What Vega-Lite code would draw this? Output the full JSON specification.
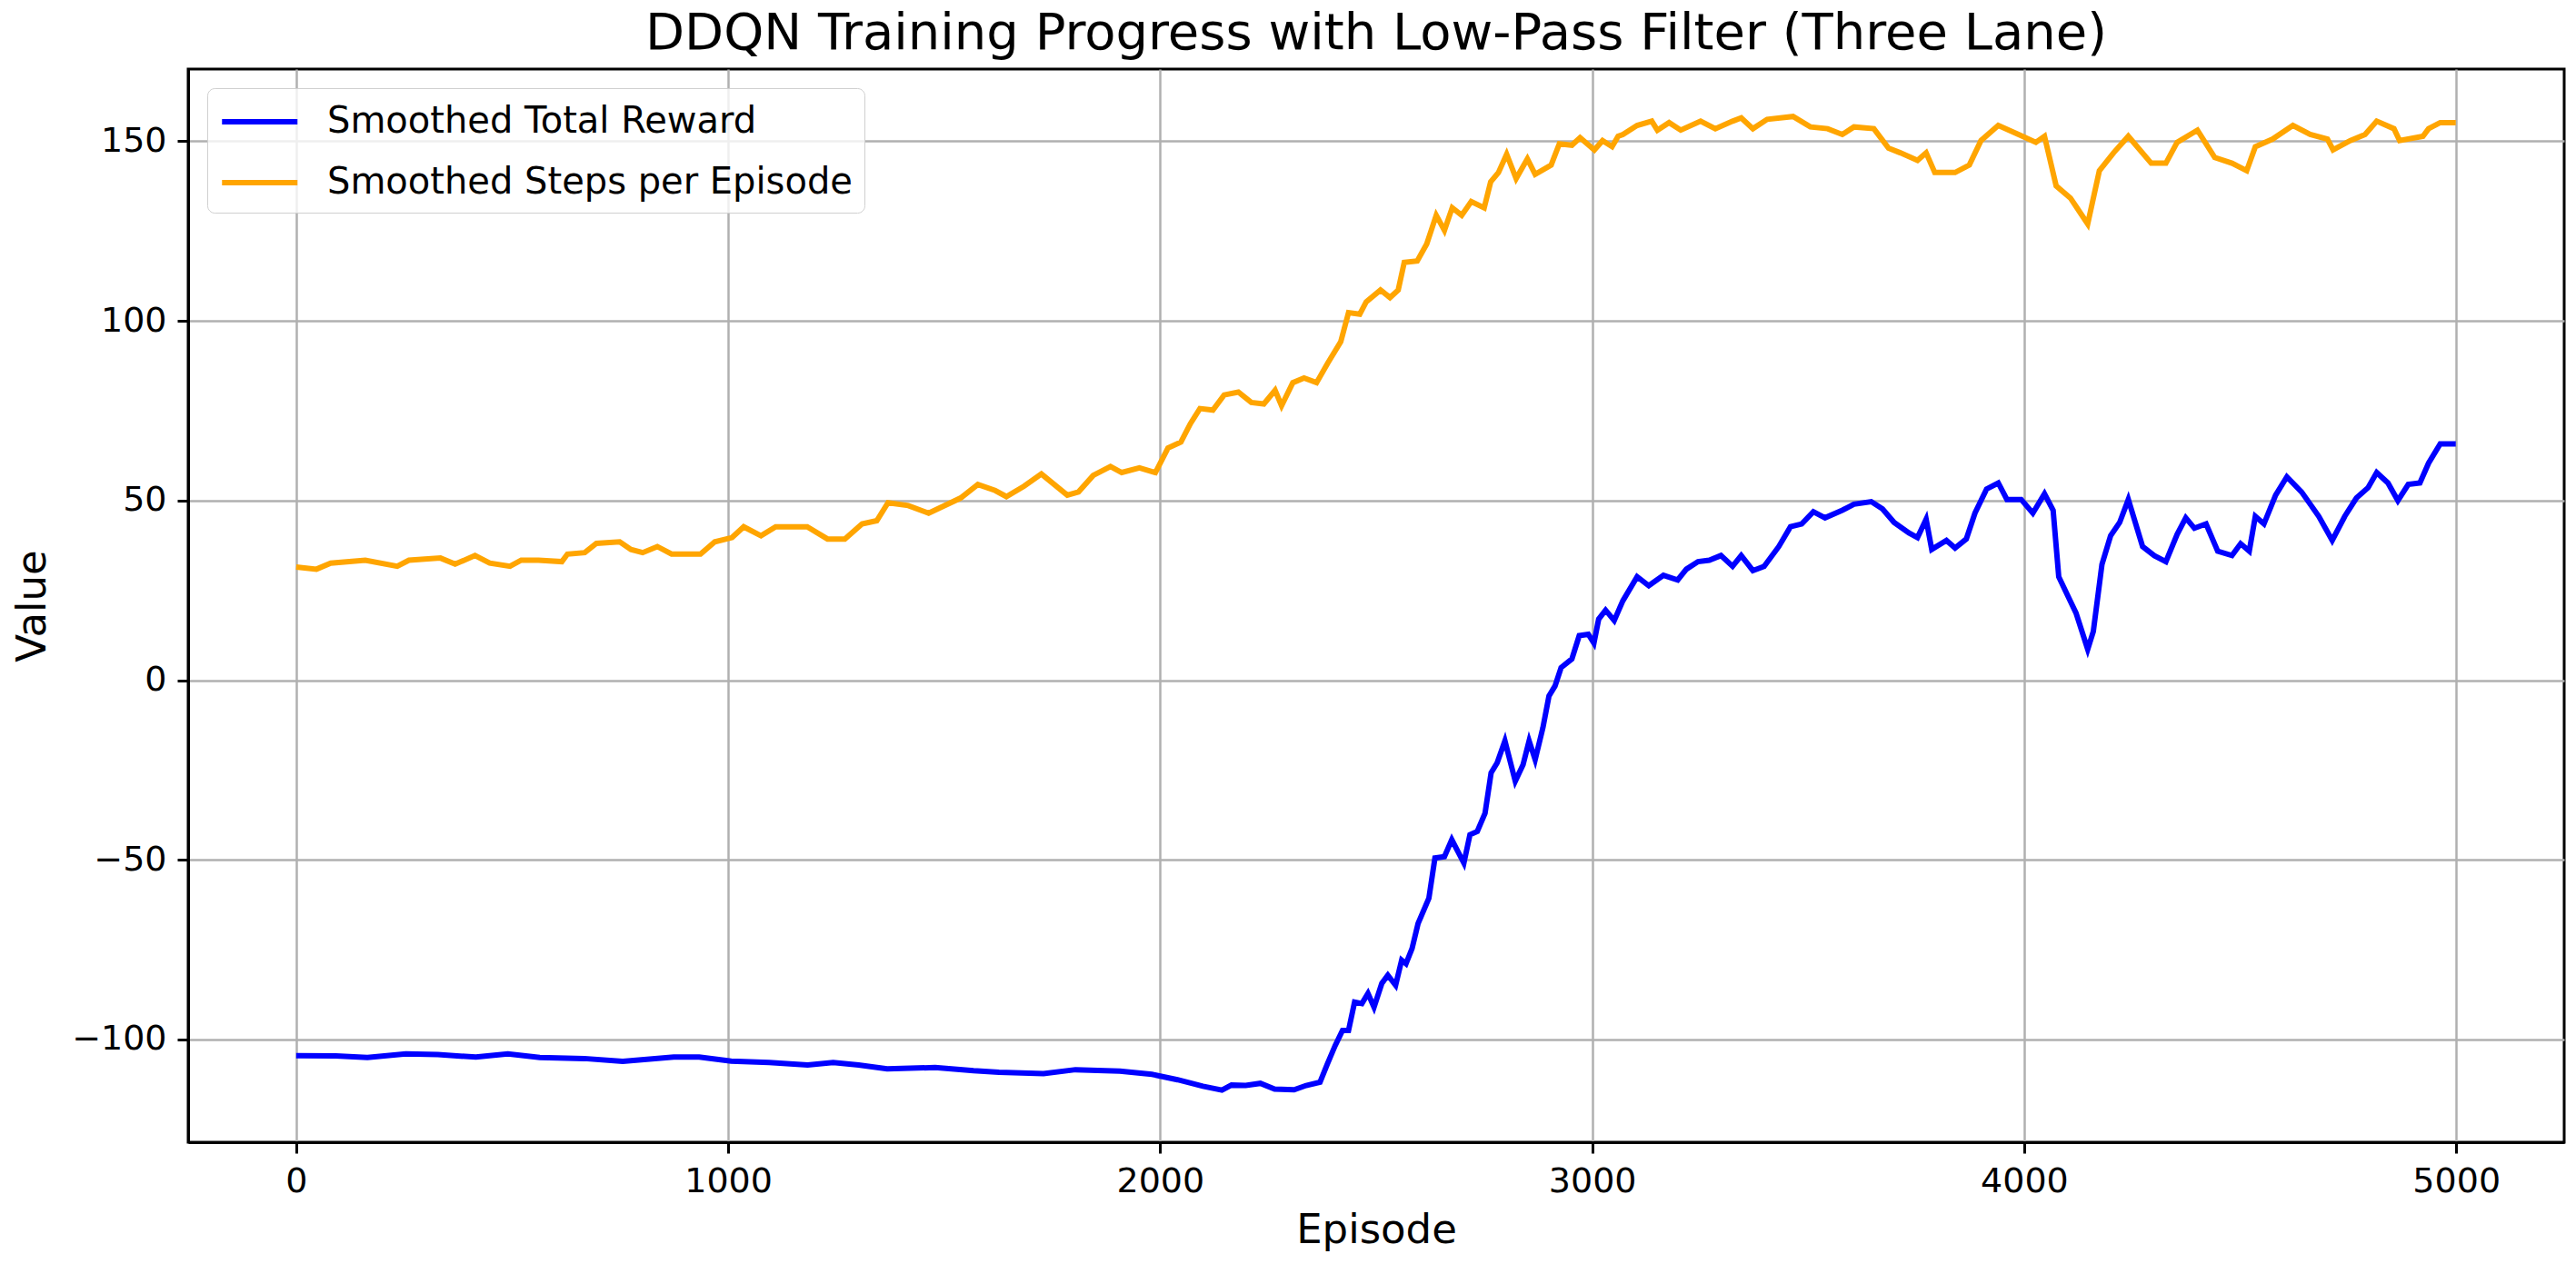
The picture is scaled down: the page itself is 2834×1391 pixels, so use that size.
{
  "$schema": "https://vega.github.io/schema/vega-lite/v6.json",
  "width": 2614,
  "height": 1181,
  "autosize": {"type": "none"},
  "padding": {"left": 207, "top": 76, "right": 13, "bottom": 134},
  "background": "white",
  "title": {
    "text": "DDQN Training Progress with Low-Pass Filter (Three Lane)",
    "fontSize": 56,
    "fontWeight": "normal",
    "color": "black",
    "anchor": "middle",
    "frame": "group",
    "baseline": "alphabetic",
    "offset": 21,
    "dy": 55
  },
  "config": {
    "font": "DejaVu Sans",
    "view": {"stroke": "black", "strokeWidth": 3},
    "axis": {
      "domainColor": "black",
      "domainWidth": 3,
      "tickColor": "black",
      "tickWidth": 3,
      "tickSize": 12,
      "labelFontSize": 38,
      "labelColor": "black",
      "labelPadding": 12,
      "titleFontSize": 45,
      "titleFontWeight": "normal",
      "titleColor": "black",
      "gridColor": "#b0b0b0",
      "gridWidth": 2.5,
      "gridOpacity": 1
    },
    "legend": {
      "orient": "top-left",
      "offset": 21,
      "symbolType": "M-1,0H3",
      "symbolSize": 1722,
      "symbolStrokeWidth": 6,
      "labelFontSize": 40,
      "labelColor": "black",
      "labelOffset": 71,
      "rowPadding": 23,
      "padding": 13,
      "strokeColor": "#d0d0d0",
      "fillColor": "rgba(255,255,255,0.8)",
      "cornerRadius": 8,
      "labelLimit": 0
    }
  },
  "data": {
    "values": [
      {"series": "Smoothed Total Reward", "episode": 0, "value": -104.5},
      {"series": "Smoothed Total Reward", "episode": 92, "value": -104.6},
      {"series": "Smoothed Total Reward", "episode": 165, "value": -105.0},
      {"series": "Smoothed Total Reward", "episode": 254, "value": -104.0},
      {"series": "Smoothed Total Reward", "episode": 328, "value": -104.2},
      {"series": "Smoothed Total Reward", "episode": 416, "value": -104.9},
      {"series": "Smoothed Total Reward", "episode": 490, "value": -104.0},
      {"series": "Smoothed Total Reward", "episode": 564, "value": -105.0},
      {"series": "Smoothed Total Reward", "episode": 667, "value": -105.3},
      {"series": "Smoothed Total Reward", "episode": 756, "value": -106.1},
      {"series": "Smoothed Total Reward", "episode": 874, "value": -104.9},
      {"series": "Smoothed Total Reward", "episode": 933, "value": -104.9},
      {"series": "Smoothed Total Reward", "episode": 1007, "value": -106.0},
      {"series": "Smoothed Total Reward", "episode": 1095, "value": -106.4},
      {"series": "Smoothed Total Reward", "episode": 1184, "value": -107.1},
      {"series": "Smoothed Total Reward", "episode": 1243, "value": -106.4},
      {"series": "Smoothed Total Reward", "episode": 1302, "value": -107.1},
      {"series": "Smoothed Total Reward", "episode": 1368, "value": -108.2},
      {"series": "Smoothed Total Reward", "episode": 1479, "value": -107.8},
      {"series": "Smoothed Total Reward", "episode": 1568, "value": -108.7},
      {"series": "Smoothed Total Reward", "episode": 1627, "value": -109.1},
      {"series": "Smoothed Total Reward", "episode": 1730, "value": -109.5},
      {"series": "Smoothed Total Reward", "episode": 1804, "value": -108.4},
      {"series": "Smoothed Total Reward", "episode": 1907, "value": -108.8},
      {"series": "Smoothed Total Reward", "episode": 1981, "value": -109.7},
      {"series": "Smoothed Total Reward", "episode": 2040, "value": -111.2},
      {"series": "Smoothed Total Reward", "episode": 2099, "value": -113.0},
      {"series": "Smoothed Total Reward", "episode": 2143, "value": -114.1},
      {"series": "Smoothed Total Reward", "episode": 2165, "value": -112.7},
      {"series": "Smoothed Total Reward", "episode": 2198, "value": -112.8},
      {"series": "Smoothed Total Reward", "episode": 2232, "value": -112.2},
      {"series": "Smoothed Total Reward", "episode": 2265, "value": -113.8},
      {"series": "Smoothed Total Reward", "episode": 2310, "value": -114.0},
      {"series": "Smoothed Total Reward", "episode": 2338, "value": -112.8},
      {"series": "Smoothed Total Reward", "episode": 2370, "value": -111.9},
      {"series": "Smoothed Total Reward", "episode": 2387, "value": -106.8},
      {"series": "Smoothed Total Reward", "episode": 2405, "value": -101.7},
      {"series": "Smoothed Total Reward", "episode": 2422, "value": -97.5},
      {"series": "Smoothed Total Reward", "episode": 2436, "value": -97.5},
      {"series": "Smoothed Total Reward", "episode": 2450, "value": -89.6},
      {"series": "Smoothed Total Reward", "episode": 2467, "value": -90.0},
      {"series": "Smoothed Total Reward", "episode": 2481, "value": -87.2},
      {"series": "Smoothed Total Reward", "episode": 2495, "value": -91.0},
      {"series": "Smoothed Total Reward", "episode": 2513, "value": -84.4},
      {"series": "Smoothed Total Reward", "episode": 2527, "value": -82.1},
      {"series": "Smoothed Total Reward", "episode": 2545, "value": -84.9},
      {"series": "Smoothed Total Reward", "episode": 2559, "value": -77.9},
      {"series": "Smoothed Total Reward", "episode": 2569, "value": -78.9},
      {"series": "Smoothed Total Reward", "episode": 2583, "value": -74.7},
      {"series": "Smoothed Total Reward", "episode": 2597, "value": -67.7},
      {"series": "Smoothed Total Reward", "episode": 2622, "value": -60.7},
      {"series": "Smoothed Total Reward", "episode": 2636, "value": -49.5},
      {"series": "Smoothed Total Reward", "episode": 2658, "value": -49.1},
      {"series": "Smoothed Total Reward", "episode": 2675, "value": -44.4},
      {"series": "Smoothed Total Reward", "episode": 2703, "value": -50.9},
      {"series": "Smoothed Total Reward", "episode": 2717, "value": -43.0},
      {"series": "Smoothed Total Reward", "episode": 2734, "value": -42.1},
      {"series": "Smoothed Total Reward", "episode": 2752, "value": -37.0},
      {"series": "Smoothed Total Reward", "episode": 2766, "value": -25.8},
      {"series": "Smoothed Total Reward", "episode": 2780, "value": -23.0},
      {"series": "Smoothed Total Reward", "episode": 2798, "value": -16.9},
      {"series": "Smoothed Total Reward", "episode": 2822, "value": -28.1},
      {"series": "Smoothed Total Reward", "episode": 2840, "value": -23.5},
      {"series": "Smoothed Total Reward", "episode": 2854, "value": -16.9},
      {"series": "Smoothed Total Reward", "episode": 2868, "value": -22.1},
      {"series": "Smoothed Total Reward", "episode": 2886, "value": -13.2},
      {"series": "Smoothed Total Reward", "episode": 2900, "value": -4.4},
      {"series": "Smoothed Total Reward", "episode": 2914, "value": -1.6},
      {"series": "Smoothed Total Reward", "episode": 2928, "value": 3.5},
      {"series": "Smoothed Total Reward", "episode": 2953, "value": 5.9},
      {"series": "Smoothed Total Reward", "episode": 2970, "value": 12.4},
      {"series": "Smoothed Total Reward", "episode": 2991, "value": 12.8},
      {"series": "Smoothed Total Reward", "episode": 3004, "value": 10.3},
      {"series": "Smoothed Total Reward", "episode": 3015, "value": 17.0},
      {"series": "Smoothed Total Reward", "episode": 3031, "value": 19.5},
      {"series": "Smoothed Total Reward", "episode": 3051, "value": 16.6},
      {"series": "Smoothed Total Reward", "episode": 3071, "value": 22.1},
      {"series": "Smoothed Total Reward", "episode": 3104, "value": 28.8},
      {"series": "Smoothed Total Reward", "episode": 3131, "value": 26.3},
      {"series": "Smoothed Total Reward", "episode": 3165, "value": 29.2},
      {"series": "Smoothed Total Reward", "episode": 3198, "value": 27.9},
      {"series": "Smoothed Total Reward", "episode": 3218, "value": 30.9},
      {"series": "Smoothed Total Reward", "episode": 3245, "value": 33.0},
      {"series": "Smoothed Total Reward", "episode": 3271, "value": 33.4},
      {"series": "Smoothed Total Reward", "episode": 3298, "value": 34.7},
      {"series": "Smoothed Total Reward", "episode": 3325, "value": 31.7},
      {"series": "Smoothed Total Reward", "episode": 3345, "value": 34.7},
      {"series": "Smoothed Total Reward", "episode": 3372, "value": 30.5},
      {"series": "Smoothed Total Reward", "episode": 3398, "value": 31.7},
      {"series": "Smoothed Total Reward", "episode": 3432, "value": 37.2},
      {"series": "Smoothed Total Reward", "episode": 3459, "value": 42.7},
      {"series": "Smoothed Total Reward", "episode": 3485, "value": 43.5},
      {"series": "Smoothed Total Reward", "episode": 3512, "value": 46.9},
      {"series": "Smoothed Total Reward", "episode": 3539, "value": 45.2},
      {"series": "Smoothed Total Reward", "episode": 3579, "value": 47.3},
      {"series": "Smoothed Total Reward", "episode": 3606, "value": 49.0},
      {"series": "Smoothed Total Reward", "episode": 3646, "value": 49.7},
      {"series": "Smoothed Total Reward", "episode": 3672, "value": 47.7},
      {"series": "Smoothed Total Reward", "episode": 3699, "value": 43.9},
      {"series": "Smoothed Total Reward", "episode": 3733, "value": 41.0},
      {"series": "Smoothed Total Reward", "episode": 3753, "value": 39.7},
      {"series": "Smoothed Total Reward", "episode": 3773, "value": 44.8},
      {"series": "Smoothed Total Reward", "episode": 3786, "value": 36.4},
      {"series": "Smoothed Total Reward", "episode": 3820, "value": 38.9},
      {"series": "Smoothed Total Reward", "episode": 3840, "value": 36.8},
      {"series": "Smoothed Total Reward", "episode": 3866, "value": 39.3},
      {"series": "Smoothed Total Reward", "episode": 3886, "value": 46.5},
      {"series": "Smoothed Total Reward", "episode": 3913, "value": 53.2},
      {"series": "Smoothed Total Reward", "episode": 3940, "value": 54.9},
      {"series": "Smoothed Total Reward", "episode": 3960, "value": 50.3},
      {"series": "Smoothed Total Reward", "episode": 3993, "value": 50.3},
      {"series": "Smoothed Total Reward", "episode": 4020, "value": 46.5},
      {"series": "Smoothed Total Reward", "episode": 4047, "value": 51.9},
      {"series": "Smoothed Total Reward", "episode": 4067, "value": 47.3},
      {"series": "Smoothed Total Reward", "episode": 4080, "value": 28.8},
      {"series": "Smoothed Total Reward", "episode": 4100, "value": 23.7},
      {"series": "Smoothed Total Reward", "episode": 4120, "value": 18.7},
      {"series": "Smoothed Total Reward", "episode": 4147, "value": 8.6},
      {"series": "Smoothed Total Reward", "episode": 4160, "value": 13.6},
      {"series": "Smoothed Total Reward", "episode": 4180, "value": 32.2},
      {"series": "Smoothed Total Reward", "episode": 4200, "value": 40.2},
      {"series": "Smoothed Total Reward", "episode": 4221, "value": 43.9},
      {"series": "Smoothed Total Reward", "episode": 4241, "value": 50.3},
      {"series": "Smoothed Total Reward", "episode": 4274, "value": 37.2},
      {"series": "Smoothed Total Reward", "episode": 4301, "value": 34.7},
      {"series": "Smoothed Total Reward", "episode": 4328, "value": 33.0},
      {"series": "Smoothed Total Reward", "episode": 4354, "value": 40.6},
      {"series": "Smoothed Total Reward", "episode": 4374, "value": 45.2},
      {"series": "Smoothed Total Reward", "episode": 4394, "value": 42.3},
      {"series": "Smoothed Total Reward", "episode": 4421, "value": 43.5},
      {"series": "Smoothed Total Reward", "episode": 4448, "value": 35.9},
      {"series": "Smoothed Total Reward", "episode": 4481, "value": 34.7},
      {"series": "Smoothed Total Reward", "episode": 4501, "value": 38.0},
      {"series": "Smoothed Total Reward", "episode": 4521, "value": 35.9},
      {"series": "Smoothed Total Reward", "episode": 4535, "value": 45.6},
      {"series": "Smoothed Total Reward", "episode": 4555, "value": 43.5},
      {"series": "Smoothed Total Reward", "episode": 4582, "value": 51.5},
      {"series": "Smoothed Total Reward", "episode": 4608, "value": 56.6},
      {"series": "Smoothed Total Reward", "episode": 4642, "value": 52.4},
      {"series": "Smoothed Total Reward", "episode": 4682, "value": 45.6},
      {"series": "Smoothed Total Reward", "episode": 4713, "value": 38.9},
      {"series": "Smoothed Total Reward", "episode": 4742, "value": 45.6},
      {"series": "Smoothed Total Reward", "episode": 4769, "value": 50.7},
      {"series": "Smoothed Total Reward", "episode": 4796, "value": 53.6},
      {"series": "Smoothed Total Reward", "episode": 4816, "value": 57.8},
      {"series": "Smoothed Total Reward", "episode": 4842, "value": 54.9},
      {"series": "Smoothed Total Reward", "episode": 4865, "value": 50.0},
      {"series": "Smoothed Total Reward", "episode": 4889, "value": 54.5},
      {"series": "Smoothed Total Reward", "episode": 4916, "value": 54.9},
      {"series": "Smoothed Total Reward", "episode": 4936, "value": 60.4},
      {"series": "Smoothed Total Reward", "episode": 4963, "value": 65.8},
      {"series": "Smoothed Total Reward", "episode": 4999, "value": 65.8},
      {"series": "Smoothed Steps per Episode", "episode": 0, "value": 31.5},
      {"series": "Smoothed Steps per Episode", "episode": 47, "value": 30.9},
      {"series": "Smoothed Steps per Episode", "episode": 80, "value": 32.6},
      {"series": "Smoothed Steps per Episode", "episode": 160, "value": 33.4},
      {"series": "Smoothed Steps per Episode", "episode": 234, "value": 31.7},
      {"series": "Smoothed Steps per Episode", "episode": 261, "value": 33.4},
      {"series": "Smoothed Steps per Episode", "episode": 334, "value": 34.0},
      {"series": "Smoothed Steps per Episode", "episode": 368, "value": 32.3},
      {"series": "Smoothed Steps per Episode", "episode": 414, "value": 34.7},
      {"series": "Smoothed Steps per Episode", "episode": 448, "value": 32.6},
      {"series": "Smoothed Steps per Episode", "episode": 495, "value": 31.7},
      {"series": "Smoothed Steps per Episode", "episode": 521, "value": 33.4},
      {"series": "Smoothed Steps per Episode", "episode": 561, "value": 33.4},
      {"series": "Smoothed Steps per Episode", "episode": 615, "value": 33.0},
      {"series": "Smoothed Steps per Episode", "episode": 628, "value": 35.1},
      {"series": "Smoothed Steps per Episode", "episode": 668, "value": 35.5},
      {"series": "Smoothed Steps per Episode", "episode": 695, "value": 38.1},
      {"series": "Smoothed Steps per Episode", "episode": 749, "value": 38.5},
      {"series": "Smoothed Steps per Episode", "episode": 775, "value": 36.4},
      {"series": "Smoothed Steps per Episode", "episode": 802, "value": 35.5},
      {"series": "Smoothed Steps per Episode", "episode": 836, "value": 37.2},
      {"series": "Smoothed Steps per Episode", "episode": 869, "value": 35.1},
      {"series": "Smoothed Steps per Episode", "episode": 936, "value": 35.1},
      {"series": "Smoothed Steps per Episode", "episode": 969, "value": 38.5},
      {"series": "Smoothed Steps per Episode", "episode": 1009, "value": 39.7},
      {"series": "Smoothed Steps per Episode", "episode": 1036, "value": 42.7},
      {"series": "Smoothed Steps per Episode", "episode": 1076, "value": 40.2},
      {"series": "Smoothed Steps per Episode", "episode": 1110, "value": 42.7},
      {"series": "Smoothed Steps per Episode", "episode": 1183, "value": 42.7},
      {"series": "Smoothed Steps per Episode", "episode": 1230, "value": 39.3},
      {"series": "Smoothed Steps per Episode", "episode": 1270, "value": 39.3},
      {"series": "Smoothed Steps per Episode", "episode": 1310, "value": 43.5},
      {"series": "Smoothed Steps per Episode", "episode": 1344, "value": 44.4},
      {"series": "Smoothed Steps per Episode", "episode": 1370, "value": 49.4},
      {"series": "Smoothed Steps per Episode", "episode": 1417, "value": 48.6},
      {"series": "Smoothed Steps per Episode", "episode": 1464, "value": 46.5},
      {"series": "Smoothed Steps per Episode", "episode": 1538, "value": 50.7},
      {"series": "Smoothed Steps per Episode", "episode": 1578, "value": 54.5},
      {"series": "Smoothed Steps per Episode", "episode": 1618, "value": 52.8},
      {"series": "Smoothed Steps per Episode", "episode": 1644, "value": 51.1},
      {"series": "Smoothed Steps per Episode", "episode": 1685, "value": 54.0},
      {"series": "Smoothed Steps per Episode", "episode": 1725, "value": 57.4},
      {"series": "Smoothed Steps per Episode", "episode": 1785, "value": 51.5},
      {"series": "Smoothed Steps per Episode", "episode": 1811, "value": 52.4},
      {"series": "Smoothed Steps per Episode", "episode": 1845, "value": 57.0},
      {"series": "Smoothed Steps per Episode", "episode": 1885, "value": 59.5},
      {"series": "Smoothed Steps per Episode", "episode": 1911, "value": 57.8},
      {"series": "Smoothed Steps per Episode", "episode": 1952, "value": 59.1},
      {"series": "Smoothed Steps per Episode", "episode": 1989, "value": 57.8},
      {"series": "Smoothed Steps per Episode", "episode": 2018, "value": 64.6},
      {"series": "Smoothed Steps per Episode", "episode": 2048, "value": 66.3},
      {"series": "Smoothed Steps per Episode", "episode": 2070, "value": 71.4},
      {"series": "Smoothed Steps per Episode", "episode": 2092, "value": 75.6},
      {"series": "Smoothed Steps per Episode", "episode": 2122, "value": 75.2},
      {"series": "Smoothed Steps per Episode", "episode": 2148, "value": 79.4},
      {"series": "Smoothed Steps per Episode", "episode": 2181, "value": 80.2},
      {"series": "Smoothed Steps per Episode", "episode": 2211, "value": 77.3},
      {"series": "Smoothed Steps per Episode", "episode": 2240, "value": 76.9},
      {"series": "Smoothed Steps per Episode", "episode": 2266, "value": 80.7},
      {"series": "Smoothed Steps per Episode", "episode": 2281, "value": 76.4},
      {"series": "Smoothed Steps per Episode", "episode": 2307, "value": 82.8},
      {"series": "Smoothed Steps per Episode", "episode": 2333, "value": 84.1},
      {"series": "Smoothed Steps per Episode", "episode": 2362, "value": 82.8},
      {"series": "Smoothed Steps per Episode", "episode": 2388, "value": 88.3},
      {"series": "Smoothed Steps per Episode", "episode": 2418, "value": 94.2},
      {"series": "Smoothed Steps per Episode", "episode": 2436, "value": 102.3},
      {"series": "Smoothed Steps per Episode", "episode": 2462, "value": 101.9},
      {"series": "Smoothed Steps per Episode", "episode": 2477, "value": 105.3},
      {"series": "Smoothed Steps per Episode", "episode": 2510, "value": 108.6},
      {"series": "Smoothed Steps per Episode", "episode": 2532, "value": 106.5},
      {"series": "Smoothed Steps per Episode", "episode": 2551, "value": 108.6},
      {"series": "Smoothed Steps per Episode", "episode": 2565, "value": 116.3},
      {"series": "Smoothed Steps per Episode", "episode": 2595, "value": 116.7},
      {"series": "Smoothed Steps per Episode", "episode": 2617, "value": 121.4},
      {"series": "Smoothed Steps per Episode", "episode": 2639, "value": 129.4},
      {"series": "Smoothed Steps per Episode", "episode": 2658, "value": 125.2},
      {"series": "Smoothed Steps per Episode", "episode": 2676, "value": 131.5},
      {"series": "Smoothed Steps per Episode", "episode": 2698, "value": 129.4},
      {"series": "Smoothed Steps per Episode", "episode": 2720, "value": 133.2},
      {"series": "Smoothed Steps per Episode", "episode": 2750, "value": 131.5},
      {"series": "Smoothed Steps per Episode", "episode": 2765, "value": 138.7},
      {"series": "Smoothed Steps per Episode", "episode": 2783, "value": 141.3},
      {"series": "Smoothed Steps per Episode", "episode": 2802, "value": 146.4},
      {"series": "Smoothed Steps per Episode", "episode": 2824, "value": 139.6},
      {"series": "Smoothed Steps per Episode", "episode": 2850, "value": 145.1},
      {"series": "Smoothed Steps per Episode", "episode": 2868, "value": 140.8},
      {"series": "Smoothed Steps per Episode", "episode": 2905, "value": 143.4},
      {"series": "Smoothed Steps per Episode", "episode": 2924, "value": 149.3},
      {"series": "Smoothed Steps per Episode", "episode": 2953, "value": 148.9},
      {"series": "Smoothed Steps per Episode", "episode": 2972, "value": 151.0},
      {"series": "Smoothed Steps per Episode", "episode": 3005, "value": 147.6},
      {"series": "Smoothed Steps per Episode", "episode": 3024, "value": 150.2},
      {"series": "Smoothed Steps per Episode", "episode": 3046, "value": 148.5},
      {"series": "Smoothed Steps per Episode", "episode": 3060, "value": 151.4},
      {"series": "Smoothed Steps per Episode", "episode": 3071, "value": 151.9},
      {"series": "Smoothed Steps per Episode", "episode": 3104, "value": 154.4},
      {"series": "Smoothed Steps per Episode", "episode": 3138, "value": 155.6},
      {"series": "Smoothed Steps per Episode", "episode": 3151, "value": 153.1},
      {"series": "Smoothed Steps per Episode", "episode": 3178, "value": 155.2},
      {"series": "Smoothed Steps per Episode", "episode": 3205, "value": 153.1},
      {"series": "Smoothed Steps per Episode", "episode": 3251, "value": 155.6},
      {"series": "Smoothed Steps per Episode", "episode": 3285, "value": 153.5},
      {"series": "Smoothed Steps per Episode", "episode": 3325, "value": 155.6},
      {"series": "Smoothed Steps per Episode", "episode": 3345, "value": 156.5},
      {"series": "Smoothed Steps per Episode", "episode": 3372, "value": 153.5},
      {"series": "Smoothed Steps per Episode", "episode": 3405, "value": 156.1},
      {"series": "Smoothed Steps per Episode", "episode": 3465, "value": 156.9},
      {"series": "Smoothed Steps per Episode", "episode": 3505, "value": 154.0},
      {"series": "Smoothed Steps per Episode", "episode": 3545, "value": 153.5},
      {"series": "Smoothed Steps per Episode", "episode": 3579, "value": 151.9},
      {"series": "Smoothed Steps per Episode", "episode": 3606, "value": 154.0},
      {"series": "Smoothed Steps per Episode", "episode": 3652, "value": 153.5},
      {"series": "Smoothed Steps per Episode", "episode": 3686, "value": 148.1},
      {"series": "Smoothed Steps per Episode", "episode": 3713, "value": 146.8},
      {"series": "Smoothed Steps per Episode", "episode": 3753, "value": 144.7},
      {"series": "Smoothed Steps per Episode", "episode": 3773, "value": 146.8},
      {"series": "Smoothed Steps per Episode", "episode": 3793, "value": 141.3},
      {"series": "Smoothed Steps per Episode", "episode": 3840, "value": 141.3},
      {"series": "Smoothed Steps per Episode", "episode": 3873, "value": 143.4},
      {"series": "Smoothed Steps per Episode", "episode": 3900, "value": 150.2},
      {"series": "Smoothed Steps per Episode", "episode": 3940, "value": 154.4},
      {"series": "Smoothed Steps per Episode", "episode": 3987, "value": 151.9},
      {"series": "Smoothed Steps per Episode", "episode": 4027, "value": 149.7},
      {"series": "Smoothed Steps per Episode", "episode": 4047, "value": 151.4},
      {"series": "Smoothed Steps per Episode", "episode": 4074, "value": 137.6},
      {"series": "Smoothed Steps per Episode", "episode": 4107, "value": 134.2},
      {"series": "Smoothed Steps per Episode", "episode": 4147, "value": 127.0},
      {"series": "Smoothed Steps per Episode", "episode": 4174, "value": 141.8},
      {"series": "Smoothed Steps per Episode", "episode": 4207, "value": 146.8},
      {"series": "Smoothed Steps per Episode", "episode": 4241, "value": 151.4},
      {"series": "Smoothed Steps per Episode", "episode": 4294, "value": 143.9},
      {"series": "Smoothed Steps per Episode", "episode": 4328, "value": 143.9},
      {"series": "Smoothed Steps per Episode", "episode": 4354, "value": 149.7},
      {"series": "Smoothed Steps per Episode", "episode": 4401, "value": 153.1},
      {"series": "Smoothed Steps per Episode", "episode": 4441, "value": 145.5},
      {"series": "Smoothed Steps per Episode", "episode": 4481, "value": 143.9},
      {"series": "Smoothed Steps per Episode", "episode": 4515, "value": 141.8},
      {"series": "Smoothed Steps per Episode", "episode": 4535, "value": 148.5},
      {"series": "Smoothed Steps per Episode", "episode": 4575, "value": 150.6},
      {"series": "Smoothed Steps per Episode", "episode": 4622, "value": 154.4},
      {"series": "Smoothed Steps per Episode", "episode": 4662, "value": 151.9},
      {"series": "Smoothed Steps per Episode", "episode": 4702, "value": 150.6},
      {"series": "Smoothed Steps per Episode", "episode": 4715, "value": 147.6},
      {"series": "Smoothed Steps per Episode", "episode": 4755, "value": 150.2},
      {"series": "Smoothed Steps per Episode", "episode": 4789, "value": 151.9},
      {"series": "Smoothed Steps per Episode", "episode": 4816, "value": 155.6},
      {"series": "Smoothed Steps per Episode", "episode": 4856, "value": 153.5},
      {"series": "Smoothed Steps per Episode", "episode": 4869, "value": 150.2},
      {"series": "Smoothed Steps per Episode", "episode": 4923, "value": 151.4},
      {"series": "Smoothed Steps per Episode", "episode": 4936, "value": 153.5},
      {"series": "Smoothed Steps per Episode", "episode": 4963, "value": 155.2},
      {"series": "Smoothed Steps per Episode", "episode": 4999, "value": 155.2}
    ]
  },
  "mark": {"type": "line", "strokeWidth": 6},
  "encoding": {
    "x": {
      "field": "episode",
      "type": "quantitative",
      "scale": {"domain": [-250, 5249.95], "nice": false, "zero": false},
      "axis": {"values": [0, 1000, 2000, 3000, 4000, 5000], "format": "d", "title": "Episode", "titlePadding": 12}
    },
    "y": {
      "field": "value",
      "type": "quantitative",
      "scale": {"domain": [-128.6, 170.1], "nice": false, "zero": false},
      "axis": {"values": [-100, -50, 0, 50, 100, 150], "format": "d", "title": "Value", "titlePadding": 20}
    },
    "color": {
      "field": "series",
      "type": "nominal",
      "scale": {
        "domain": ["Smoothed Total Reward", "Smoothed Steps per Episode"],
        "range": ["#0000ff", "#ffa500"]
      },
      "legend": {"title": null}
    }
  }
}
